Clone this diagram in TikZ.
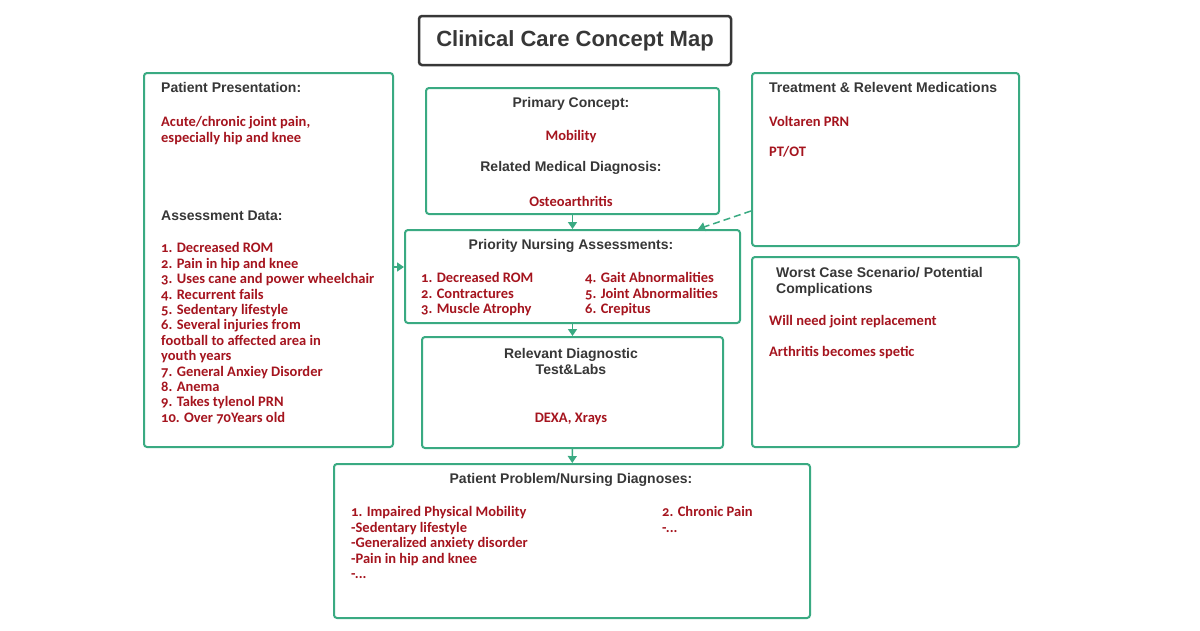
\documentclass[tikz,border=0pt]{standalone}
\usepackage{fontspec}
\setmainfont{Liberation Sans}
\newfontfamily\notefont[Numbers=OldStyle]{Carlito}
\usetikzlibrary{arrows.meta}
\definecolor{mapgreen}{RGB}{58,170,130}
\definecolor{notered}{RGB}{165,20,30}
\definecolor{headgray}{RGB}{55,55,55}
\tikzset{
  card/.style={draw=mapgreen, line width=2pt, rounded corners=3pt, anchor=north west, inner sep=0pt},
  head/.style={text=headgray, font=\bfseries\fontsize{14}{16}\selectfont, inner sep=0pt},
  note/.style={text=notered, font=\notefont\bfseries\fontsize{14.5}{15.4}\selectfont, inner sep=0pt, align=left},
  link/.style={draw=mapgreen, line width=1.5pt, ->},
}
\begin{document}
\begin{tikzpicture}[x=1pt, y=-1pt, >={Triangle[length=7pt,width=9pt]}]
				\useasboundingbox[fill=white] (0,0) rectangle (1200,630);

				% Title
				\node[draw=headgray, line width=2.5pt, rounded corners=3pt, minimum width=312pt, minimum height=49pt,
					text=headgray, font=\bfseries\fontsize{22}{24}\selectfont] (title) at (575,40.5) {Clinical Care Concept Map};

				% Boxes
				\node[card, minimum width=249pt, minimum height=374pt] (pres) at (143,72) {};
				\node[card, minimum width=293pt, minimum height=126pt] (prim) at (425,87) {};
				\node[card, minimum width=335pt, minimum height=93pt] (prio) at (404,229) {};
				\node[card, minimum width=301pt, minimum height=111pt] (test) at (421,336) {};
				\node[card, minimum width=476pt, minimum height=154pt] (prob) at (333,463) {};
				\node[card, minimum width=267pt, minimum height=173pt] (treat) at (751,72) {};
				\node[card, minimum width=267pt, minimum height=190pt] (worst) at (751,256) {};

				% Patient presentation
				\node[head, anchor=west] (presT) at (161,87.5) {Patient Presentation:};
				\node[note, anchor=north west] (presN) at (161,116.5) {Acute/chronic joint pain,\\especially hip and knee};
				\node[head, anchor=west] (assessT) at (161,216) {Assessment Data:};
				\node[note, anchor=north west] (assessN) at (161,242.5) {1. Decreased ROM\\2. Pain in hip and knee\\3. Uses cane and power wheelchair\\4. Recurrent fails\\5. Sedentary lifestyle\\6. Several injuries from\\football to affected area in\\youth years\\7. General Anxiey Disorder\\8. Anema\\9. Takes tylenol PRN\\10. Over 70Years old};

				% Primary concept
				\node[head] (primT) at (571,104) {Primary Concept:};
				\node[note] (primN) at (571,137) {Mobility};
				\node[head] (diagT) at (571,168) {Related Medical Diagnosis:};
				\node[note] (diagN) at (571,201) {Osteoarthritis};

				% Priority nursing assessments
				\node[head] (prioT) at (571,246) {Priority Nursing Assessments:};
				\node[note, anchor=north west] (prioL) at (421,272.5) {1. Decreased ROM\\2. Contractures\\3. Muscle Atrophy};
				\node[note, anchor=north west] (prioR) at (585,272.5) {4. Gait Abnormalities\\5. Joint Abnormalities\\6. Crepitus};

				% Diagnostic tests
				\node[head, align=center] (testT) at (571,361) {Relevant Diagnostic\\Test\&Labs};
				\node[note] (testN) at (571,419) {DEXA, Xrays};

				% Nursing diagnoses
				\node[head] (probT) at (571,480) {Patient Problem/Nursing Diagnoses:};
				\node[note, anchor=north west] (probL) at (351,506.5) {1. Impaired Physical Mobility\\-Sedentary lifestyle\\-Generalized anxiety disorder\\-Pain in hip and knee\\-...};
				\node[note, anchor=north west] (probR) at (662,506.5) {2. Chronic Pain\\-...};

				% Treatment
				\node[head, anchor=west] (treatT) at (769,87.5) {Treatment \& Relevent Medications};
				\node[note, anchor=west] (treatA) at (769,121) {Voltaren PRN};
				\node[note, anchor=west] (treatB) at (769,152) {PT/OT};

				% Worst case
				\node[head, anchor=west, align=left] (worstT) at (776,281.5) {Worst Case Scenario/ Potential\\Complications};
				\node[note, anchor=west] (worstA) at (769,321.5) {Will need joint replacement};
				\node[note, anchor=west] (worstB) at (769,352.5) {Arthritis becomes spetic};

				% Connections
				\draw[link] (prim) -- (prio);
				\draw[link] (prio) -- (test);
				\draw[link] (test) -- (prob);
				\draw[link] ([yshift=-7pt]pres.east) -- ([yshift=-7pt]pres.east -| prio.west);
				\draw[link, dash pattern=on 7pt off 4pt] ([yshift=36pt]treat.south west) -- ([xshift=294pt]prio.north west);

			\end{tikzpicture}
\end{document}
